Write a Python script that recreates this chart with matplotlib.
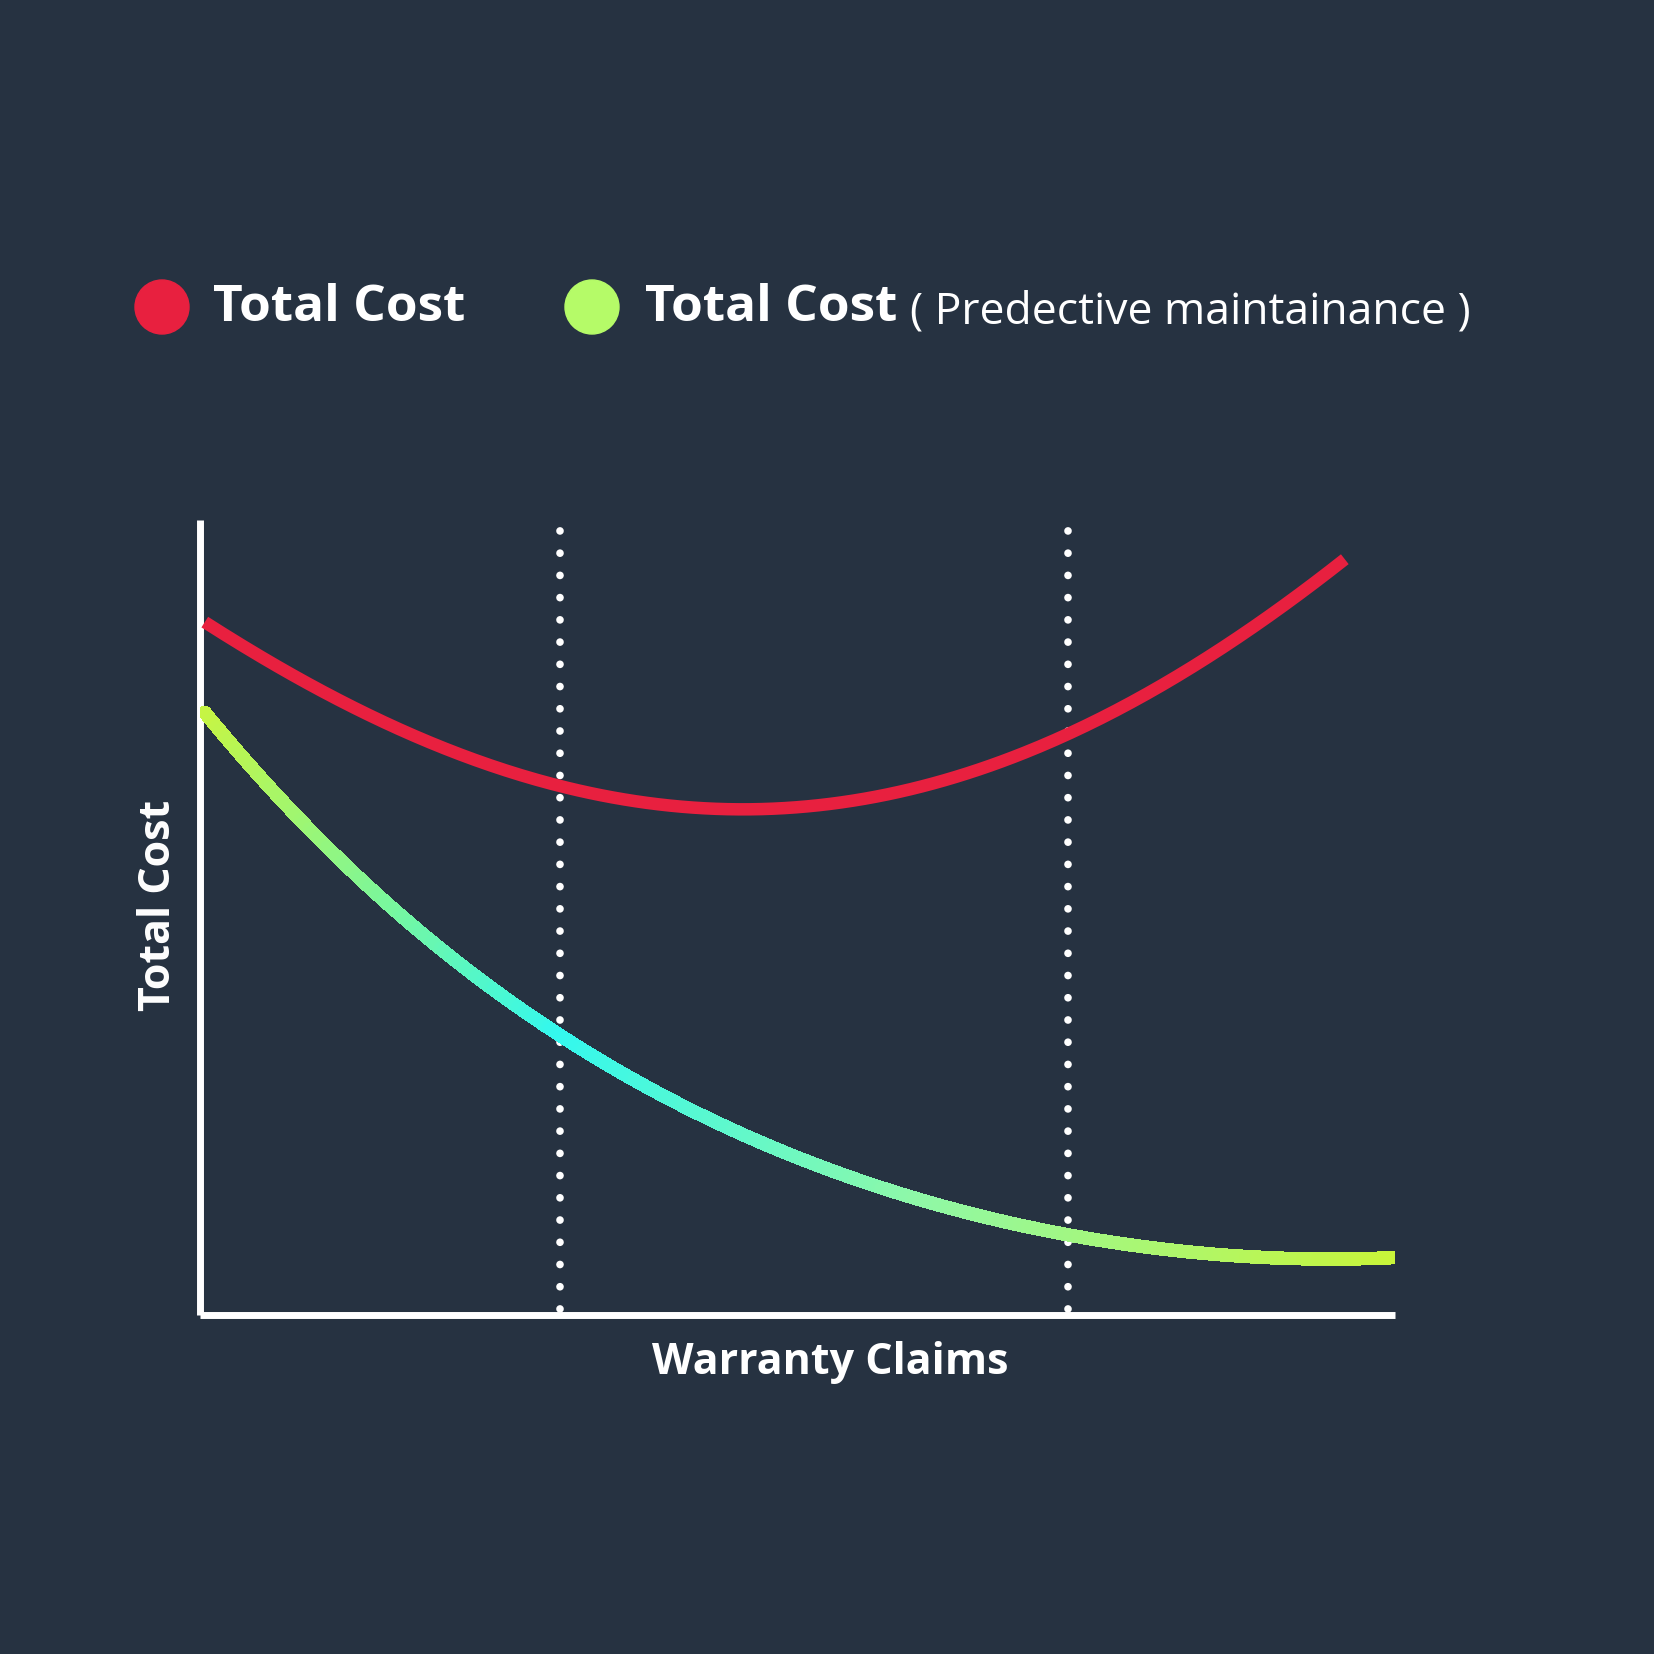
import numpy as np
import matplotlib
matplotlib.use("Agg")
import matplotlib.pyplot as plt
from matplotlib.collections import LineCollection
from matplotlib.colors import LinearSegmentedColormap

red_x = [0.4, 8.4, 16.7, 30.1, 44.8, 58.6, 72.4, 83.7, 95.8]
red_y = [87.2, 79.9, 73.6, 66.7, 63.5, 66.0, 72.6, 82.4, 95.0]
green_x = [0.4, 8.4, 16.7, 30.1, 44.8, 58.6, 72.4, 83.7, 100.0]
green_y = [75.8, 62.3, 50.3, 35.2, 23.3, 15.1, 10.1, 7.9, 7.2]
vlines_x = [30.1, 72.6]

BG = "#263241"
W = H = 1654
fig = plt.figure(figsize=(16.54, 16.54), dpi=100, facecolor=BG)
ax = fig.add_axes([200/W, (H-1315)/H, 1195/W, 795/H])
ax.set_facecolor(BG)
ax.set_xlim(0, 100); ax.set_ylim(0, 100)
ax.axis("off")

ax.plot([0, 0], [0, 100], color="white", lw=5, solid_capstyle="butt", clip_on=False)
ax.plot([0, 100], [0, 0], color="white", lw=5, solid_capstyle="butt", clip_on=False)

for vx in vlines_x:
    ax.plot([vx, vx], [0.8, 100.5], color="white", lw=5.5,
            linestyle=(0, (0.01, 2.9)), dash_capstyle="round", clip_on=False)

rc = np.polyfit(red_x, red_y, 4)
xs = np.linspace(red_x[0], red_x[-1], 300)
ax.plot(xs, np.polyval(rc, xs), color="#e8203f", lw=9, solid_capstyle="butt", clip_on=False)

gc = np.polyfit(green_x, green_y, 4)
xg = np.linspace(green_x[0], green_x[-1], 400)
yg = np.polyval(gc, xg)
pts = np.array([xg, yg]).T.reshape(-1, 1, 2)
segs = np.concatenate([pts[:-1], pts[1:]], axis=1)
cmap = LinearSegmentedColormap.from_list("g", [(0, "#c8f542"), (0.3, "#33f8ee"),
                                                (0.6, "#8ef8a8"), (1, "#c8f53a")])
lc = LineCollection(segs, cmap=cmap, linewidths=9, capstyle="round", antialiased=False)
lc.set_array(xg[:-1] / 100)
lc.set_clim(0, 1)
ax.add_collection(lc)

from matplotlib.patches import Circle
fig.patches.append(Circle((162/W, 1-307/H), 27/W, transform=fig.transFigure, color="#e8203f"))
fig.patches.append(Circle((592/W, 1-307/H), 27/W, transform=fig.transFigure, color="#b5fb68"))
fam = ["Open Sans", "DejaVu Sans"]
fig.text(213/W, 1-308/H, "Total Cost", color="white", fontsize=37, fontweight="bold",
         family=fam, va="center", ha="left")
fig.text(645/W, 1-308/H, "Total Cost", color="white", fontsize=37, fontweight="bold",
         family=fam, va="center", ha="left")
fig.text(910/W, 1-312/H, "( Predective maintainance )", color="white", fontsize=32,
         family=fam, va="center", ha="left")

fig.text(830/W, 1-1362/H, "Warranty Claims", color="white", fontsize=31, fontweight="bold",
         family=fam, va="center", ha="center")
fig.text(158/W, 1-905/H, "Total Cost", color="white", fontsize=31, fontweight="bold",
         family=fam, va="center", ha="center", rotation=90)

fig.savefig("out.png", dpi=100, facecolor=BG)
